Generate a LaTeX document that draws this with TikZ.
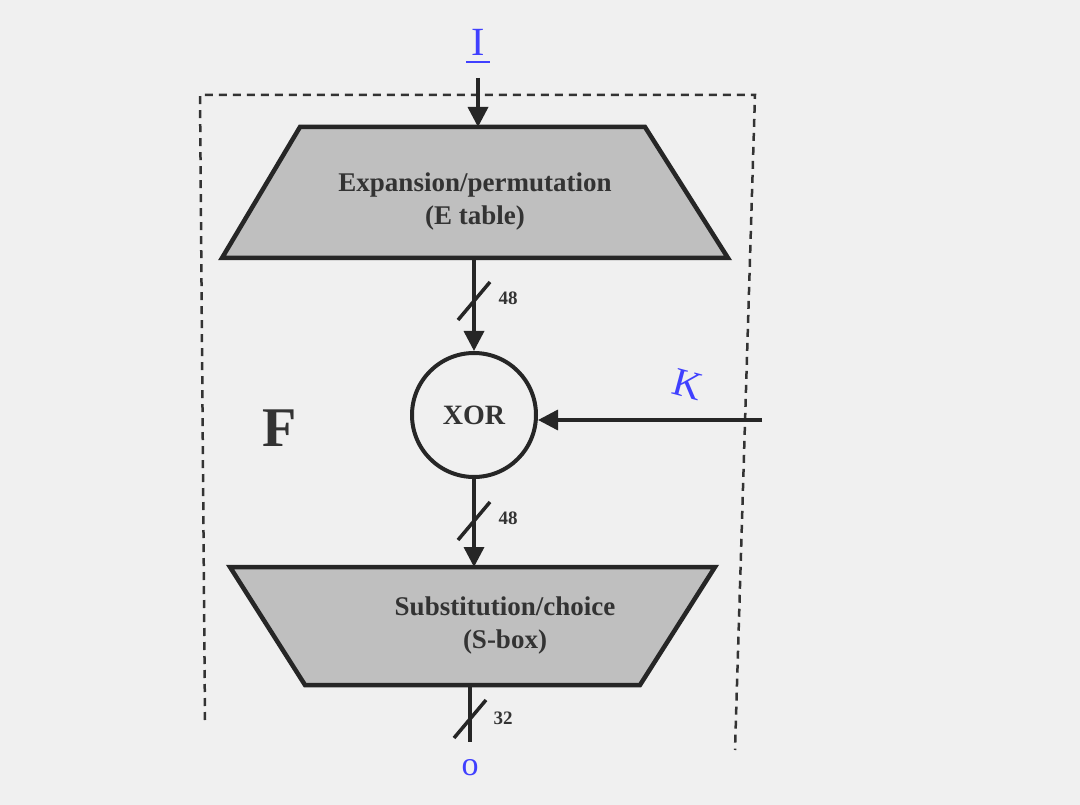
\documentclass[tikz,border=0pt]{standalone}
\usepackage{fontspec}
\setmainfont{Liberation Serif}
\usetikzlibrary{arrows.meta}
\begin{document}
\begin{tikzpicture}[x=1pt,y=-1pt,
  box/.style={draw=black!85,line width=4.5pt,fill=black!25},
  lbl/.style={font=\bfseries\fontsize{27}{33}\selectfont,text=black!80,align=center},
  wire/.style={draw=black!85,line width=3.5pt},
  arr/.style={wire,-{Triangle[length=20pt,width=20pt]}},
  hand/.style={text=blue!75,font=\fontsize{40}{40}\selectfont}]
\fill[black!6] (0,0) rectangle (1080,805);
\useasboundingbox (0,0) rectangle (1080,805);
\draw[black!80,line width=2.5pt,dash pattern=on 8pt off 6pt] (205,720) -- (200,95) -- (755,95) -- (735,750);
\draw[box] (300,127) -- (645,127) -- (728,258) -- (222,258) -- cycle;
\node[lbl] (e) at (475,202) {Expansion/permutation\\(E table)};
\draw[box] (230,567) -- (715,567) -- (640,685) -- (305,685) -- cycle;
\node[lbl] (s) at (505,626) {Substitution/choice\\(S-box)};
\node[draw=black!85,line width=4pt,circle,minimum size=124pt,inner sep=0,font=\bfseries\fontsize{28}{28}\selectfont,text=black!80] (x) at (474,415) {XOR};
\coordinate (in) at (478,78);
\coordinate (et) at (478,127);
\coordinate (eb) at (474,258);
\coordinate (st) at (474,567);
\coordinate (sb) at (470,685);
\coordinate (out) at (470,742);
\coordinate (k) at (762,420);
\draw[arr] (in) -- (et);
\draw[arr] (eb) -- (x.north);
\draw[arr] (x.south) -- (st);
\draw[wire] (sb) -- (out);
\draw[arr] (k) -- (x.east|-k);
\draw[wire] (458,320) -- (490,282);
\node[font=\bfseries\fontsize{19}{19}\selectfont,text=black!80] (n1) at (508,298) {48};
\draw[wire] (458,540) -- (490,502);
\node[font=\bfseries\fontsize{19}{19}\selectfont,text=black!80] (n2) at (508,518) {48};
\draw[wire] (454,738) -- (486,700);
\node[font=\bfseries\fontsize{19}{19}\selectfont,text=black!80] (n3) at (503,718) {32};
\node[font=\bfseries\fontsize{56}{56}\selectfont,text=black!80] (f) at (280,428) {F};
\node[hand] (ti) at (478,42) {I};
\draw[blue!75,line width=2.5pt] (466,62) -- (490,62);
\node[hand,rotate=-15] (tk) at (688,385) {K};
\node[hand,font=\fontsize{34}{34}\selectfont] (to) at (470,768) {o};
\end{tikzpicture}
\end{document}
